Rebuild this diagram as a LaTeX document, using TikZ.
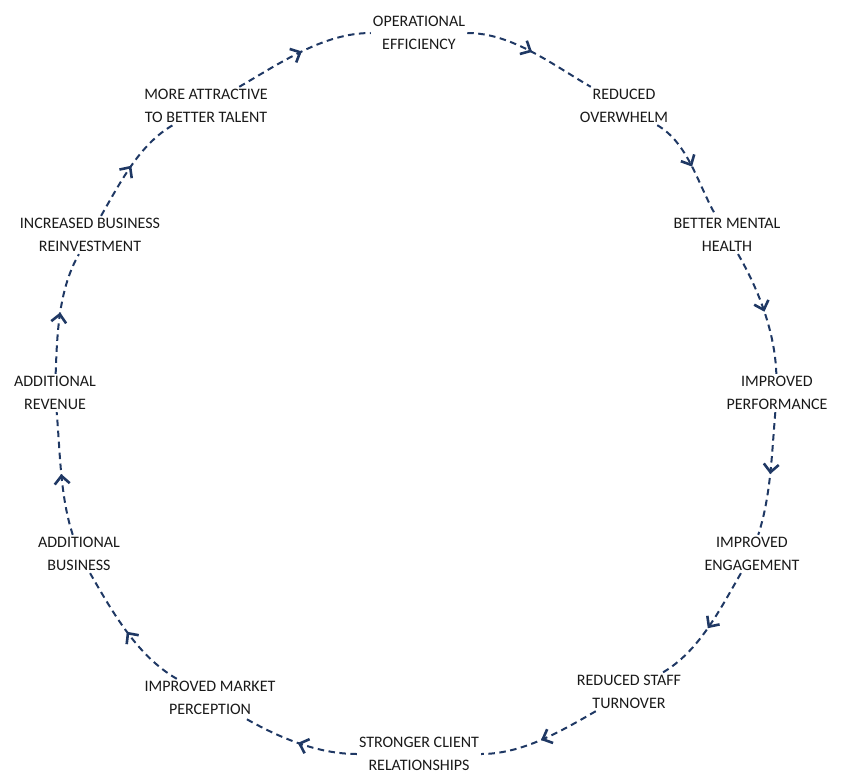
\documentclass[tikz,border=0pt]{standalone}
\usepackage{fontspec}
\setmainfont{Carlito}
\usetikzlibrary{arrows.meta,decorations.markings}
\definecolor{cyclenavy}{HTML}{1F3864}
\tikzset{
  stage/.style={align=center, inner sep=2pt, font=\fontsize{16}{23.5}\selectfont, text=black!90},
  flow/.style={color=cyclenavy, line width=2pt, dash pattern=on 6.5pt off 4.5pt, looseness=0.85,
               decoration={markings, mark=at position 0.5 with {\arrow{Straight Barb[length=8pt,width=15pt,line width=2.6pt]}}},
               postaction={decorate}},
}

\begin{document}
\begin{tikzpicture}[x=1pt, y=1pt]
  \useasboundingbox (0,0) rectangle (845,-781);

  \node[stage] (node1) at (419,-33) {OPERATIONAL\\EFFICIENCY};
  \node[stage] (node2) at (624,-106) {REDUCED\\OVERWHELM};
  \node[stage] (node3) at (727,-235) {BETTER MENTAL\\HEALTH};
  \node[stage] (node4) at (777,-393) {IMPROVED\\PERFORMANCE};
  \node[stage] (node5) at (752,-554) {IMPROVED\\ENGAGEMENT};
  \node[stage] (node6) at (629,-692) {REDUCED STAFF\\TURNOVER};
  \node[stage] (node7) at (419,-754) {STRONGER CLIENT\\RELATIONSHIPS};
  \node[stage] (node8) at (210,-698) {IMPROVED MARKET\\PERCEPTION};
  \node[stage] (node9) at (79,-554) {ADDITIONAL\\BUSINESS};
  \node[stage] (node10) at (55,-393) {ADDITIONAL\\REVENUE};
  \node[stage] (node11) at (90,-235) {INCREASED BUSINESS\\REINVESTMENT};
  \node[stage] (node12) at (206,-106) {MORE ATTRACTIVE\\TO BETTER TALENT};

  % clockwise round the cycle
  \draw[flow] (node1) to[out=0, in=150] (node2);
  \draw[flow] (node2) to[out=-30, in=120] (node3);
  \draw[flow] (node3) to[out=-60, in=92] (node4);
  \draw[flow] (node4) to[out=-95, in=72] (node5);
  \draw[flow] (node5) to[out=-120, in=30] (node6);
  \draw[flow] (node6) to[out=-150, in=0] (node7);
  \draw[flow] (node7) to[out=180, in=-30] (node8);
  \draw[flow] (node8) to[out=150, in=-60] (node9);
  \draw[flow] (node9) to[out=108, in=-85] (node10);
  \draw[flow] (node10) to[out=88, in=-120] (node11);
  \draw[flow] (node11) to[out=60, in=-150] (node12);
  \draw[flow] (node12) to[out=30, in=180] (node1);
\end{tikzpicture}
\end{document}
